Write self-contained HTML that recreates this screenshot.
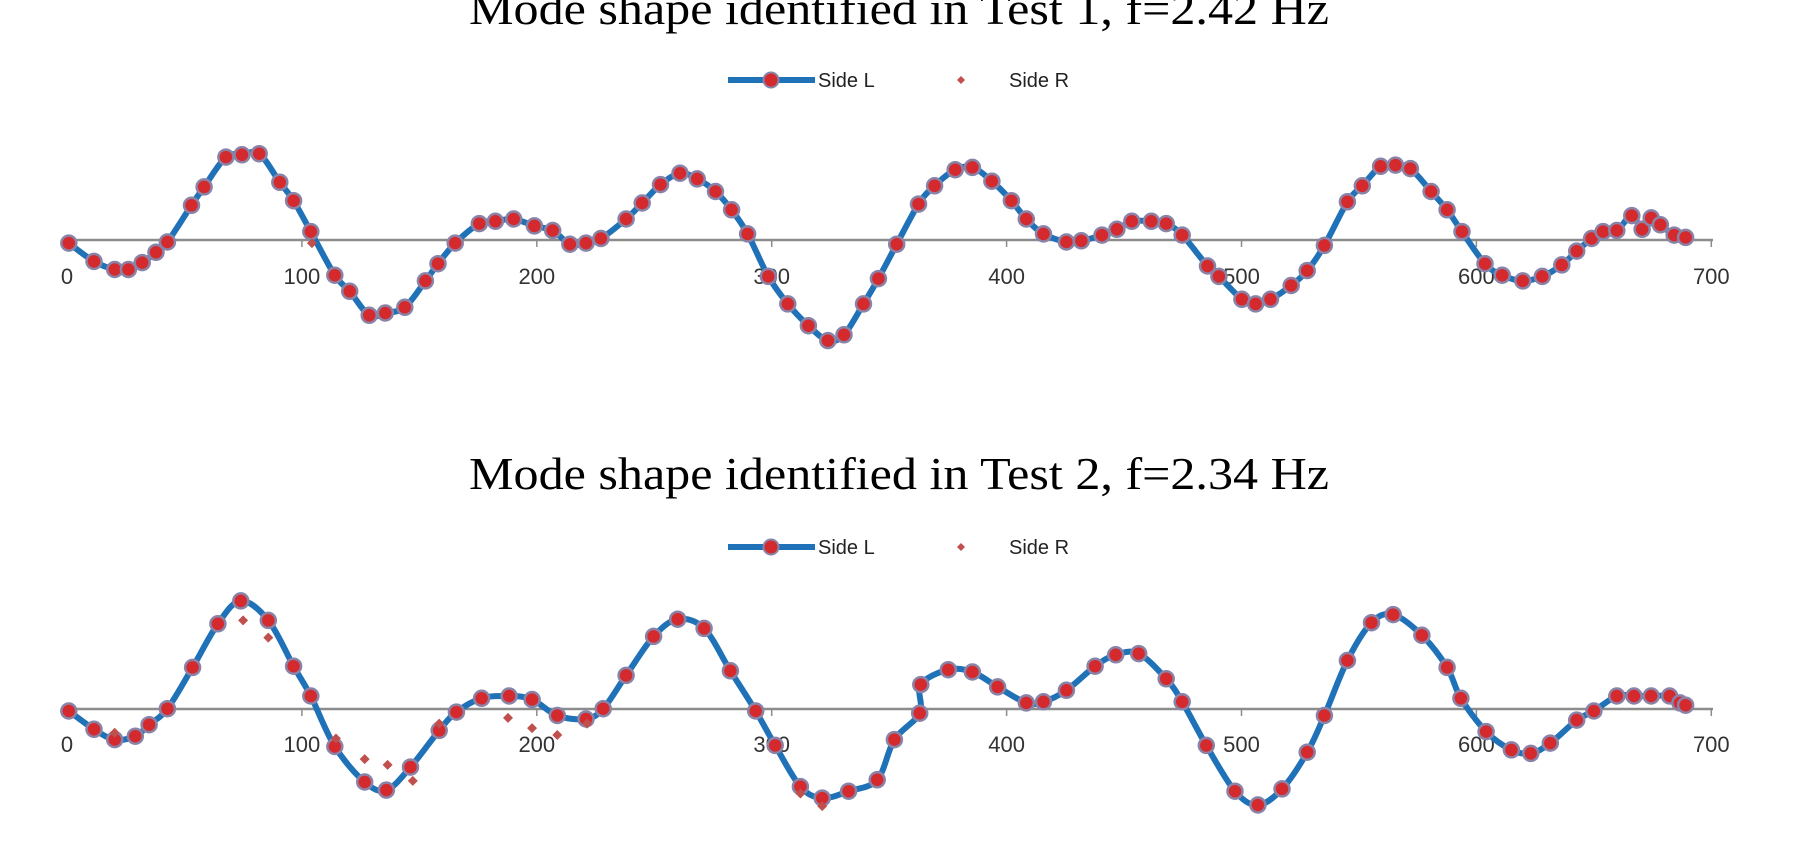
<!DOCTYPE html>
<html><head><meta charset="utf-8">
<style>
html,body{margin:0;padding:0;background:#fff;}
svg{display:block;}
</style></head>
<body>
<svg id="s" width="1798" height="868" viewBox="0 0 1798 868" xmlns="http://www.w3.org/2000/svg">
<rect width="1798" height="868" fill="#fff"/>
<text x="899" y="24" text-anchor="middle" font-family="Liberation Serif, serif" font-size="46" textLength="860" lengthAdjust="spacingAndGlyphs" fill="#000">Mode shape identified in Test 1, f=2.42 Hz</text>
<text x="899" y="489" text-anchor="middle" font-family="Liberation Serif, serif" font-size="46" textLength="860" lengthAdjust="spacingAndGlyphs" fill="#000">Mode shape identified in Test 2, f=2.34 Hz</text>
<g id="g"></g>
</svg>
<script>
var K=1.1467;
var c1=[[60,212],[82,228],[100,235],[112,235],[124,229],[136,220],[146,211],[167,179],[178,163],[197,137],[211,135],[226,134],[244,159],[256,175],[271,202],[292,240],[305,254],[322,275],[336,273],[353,268],[371,245],[382,230],[397,212],[418,195],[432,193],[448,191],[466,197],[482,201],[497,213],[511,212],[524,208],[546,191],[560,177],[576,161],[593,151],[608,156],[624,167],[638,183],[652,204],[670,241],[687,265],[705,284],[722,297],[736,292],[753,265],[766,243],[782,213],[801,178],[815,162],[833,148],[848,146],[865,158],[882,175],[895,191],[910,204],[930,211],[943,210],[961,205],[974,200],[987,193],[1004,193],[1017,195],[1031,205],[1053,232],[1063,241],[1083,261],[1095,265],[1108,261],[1126,249],[1140,236],[1155,214],[1175,176],[1188,162],[1204,145],[1217,144],[1230,147],[1248,167],[1262,183],[1275,202],[1295,230],[1310,240],[1328,245],[1345,241],[1362,231],[1375,219],[1388,208],[1398,202],[1410,201],[1423,188],[1432,200],[1440,190],[1448,196],[1460,205],[1470,207]];
var r1=[[272,212]];
var c2=[[60,620],[82,636],[100,645],[118,642],[130,632],[146,618],[168,582],[190,544],[210,524],[234,541],[256,581],[271,607],[292,651],[318,682],[337,689],[358,669],[383,637],[398,621],[420,609],[444,607],[464,610],[486,624],[511,627],[526,618],[546,589],[570,555],[591,540],[614,548],[637,585],[659,620],[676,650],[698,686],[717,696],[740,690],[765,680],[780,645],[802,622],[803,597],[827,584],[848,586],[870,599],[895,613],[910,612],[930,602],[955,581],[973,571],[993,570],[1017,592],[1031,612],[1052,650],[1077,690],[1097,702],[1118,688],[1140,656],[1155,624],[1175,576],[1196,543],[1215,536],[1240,554],[1262,582],[1274,609],[1296,638],[1318,654],[1335,657],[1352,648],[1375,628],[1390,620],[1410,607],[1425,607],[1440,607],[1456,607],[1465,613],[1470,615]];
var r2=[[100,639],[212,541],[234,556],[293,644],[318,662],[338,667],[360,681],[383,631],[443,626],[464,635],[486,641],[512,631],[698,692],[717,703]];
function sc(a){return a.map(function(p){return [p[0]*K,p[1]*K];});}
function path(p){var d="M"+p[0][0].toFixed(1)+","+p[0][1].toFixed(1);
for(var i=0;i<p.length-1;i++){var p0=p[i-1]||p[i],p1=p[i],p2=p[i+1],p3=p[i+2]||p2;
var t=1/6;d+="C"+(p1[0]+(p2[0]-p0[0])*t).toFixed(1)+","+(p1[1]+(p2[1]-p0[1])*t).toFixed(1)+" "+(p2[0]-(p3[0]-p1[0])*t).toFixed(1)+","+(p2[1]-(p3[1]-p1[1])*t).toFixed(1)+" "+p2[0].toFixed(1)+","+p2[1].toFixed(1);}
return d;}
var h="";
function chart(ay,ly,legy,c,r){
 h+='<line x1="63" y1="'+ay+'" x2="1713" y2="'+ay+'" stroke="#8c8c8c" stroke-width="2.5"/>';
 for(var i=0;i<=7;i++){var x=67+i*234.9;h+='<line x1="'+x+'" y1="'+ay+'" x2="'+x+'" y2="'+(ay+7)+'" stroke="#8c8c8c" stroke-width="1.5"/>';
 h+='<text x="'+x+'" y="'+ly+'" text-anchor="middle" font-family="Liberation Sans, sans-serif" font-size="22" fill="#333">'+(i*100)+'</text>';}
 var p=sc(c);h+='<path d="'+path(p)+'" fill="none" stroke="#1f72b8" stroke-width="6"/>';
 p.forEach(function(q){h+='<circle cx="'+q[0].toFixed(1)+'" cy="'+q[1].toFixed(1)+'" r="7.5" fill="#d42a2e" stroke="#8a83a8" stroke-width="2.5"/>';});
 sc(r).forEach(function(q){h+='<path d="M'+q[0]+','+(q[1]-5)+'l5,5l-5,5l-5,-5z" fill="#c0504d"/>';});
 h+='<line x1="728" y1="'+legy+'" x2="815" y2="'+legy+'" stroke="#1f72b8" stroke-width="6"/><circle cx="771" cy="'+legy+'" r="7.5" fill="#d42a2e" stroke="#8a83a8" stroke-width="2"/>';
 h+='<text x="818" y="'+(legy+7)+'" font-family="Liberation Sans, sans-serif" font-size="20" fill="#222">Side L</text>';
 h+='<path d="M961,'+(legy-4)+'l4,4l-4,4l-4,-4z" fill="#c0504d"/>';
 h+='<text x="1009" y="'+(legy+7)+'" font-family="Liberation Sans, sans-serif" font-size="20" fill="#222">Side R</text>';
}
chart(240,284,80,c1,r1);
chart(709,752,547,c2,r2);
document.getElementById("g").innerHTML=h;
</script>
</body></html>
